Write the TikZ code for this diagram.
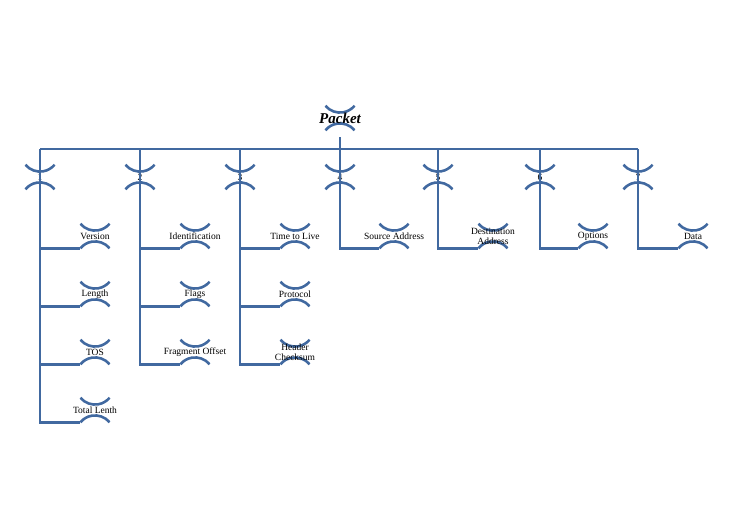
\documentclass[tikz,border=0pt]{standalone}
\usepackage{fontspec}
\setmainfont{Liberation Serif}
\begin{document}
\begin{tikzpicture}[x=1pt,y=-1pt,
  lnk/.style={draw=blue!45!black!70!white, color={rgb,255:red,65;green,105;blue,160}, line width=2.6pt},
  arcn/.style={shape=rectangle, inner sep=0pt, minimum size=38pt, font=\fontsize{9.5}{10}\selectfont, align=center,
    append after command={
      \pgfextra{\draw[lnk] ([shift={(40:19)}]\tikzlastnode.center) arc[start angle=-40,end angle=-140,radius=19];
      \draw[lnk] ([shift={(220:19)}]\tikzlastnode.center) arc[start angle=140,end angle=40,radius=19];}}}]
\useasboundingbox (0,0) rectangle (733,530);
\node[arcn,font=\fontsize{15}{16}\selectfont\bfseries\itshape] (root) at (340,118) {Packet};
\foreach \i/\x in {1/40,2/140,3/240,4/340,5/438,6/540,7/638}{
  \node[arcn] (n\i) at (\x,177) {\i};
  \coordinate (b\i) at (\x,149);
}
\draw[lnk] (b1) -- (b7);
\draw[lnk] (root.center) ++(0,19) -- (root|-b1);
\foreach \i in {1,...,7}{\draw[lnk] (b\i) -- ([yshift=-19pt]n\i.center);}
\node[arcn] (c11) at (95,236) {Version};
\node[arcn] (c12) at (95,294) {Length};
\node[arcn] (c13) at (95,352) {TOS};
\node[arcn] (c14) at (95,410) {Total Lenth};
\node[arcn] (c21) at (195,236) {Identification};
\node[arcn] (c22) at (195,294) {Flags};
\node[arcn] (c23) at (195,352) {Fragment Offset};
\node[arcn] (c31) at (295,236) {Time to Live};
\node[arcn] (c32) at (295,294) {Protocol};
\node[arcn] (c33) at (295,352) {Header\\Checksum};
\node[arcn] (c41) at (394,236) {Source Address};
\node[arcn] (c51) at (493,236) {Destination\\Address};
\node[arcn] (c61) at (593,236) {Options};
\node[arcn] (c71) at (693,236) {Data};
\foreach \p/\c in {1/c11,1/c12,1/c13,1/c14,2/c21,2/c22,2/c23,3/c31,3/c32,3/c33,4/c41,5/c51,6/c61,7/c71}{
  \draw[lnk] ([yshift=19pt]n\p.center) |- ([shift={(140:19)}]\c.center);
}
\end{tikzpicture}
\end{document}
